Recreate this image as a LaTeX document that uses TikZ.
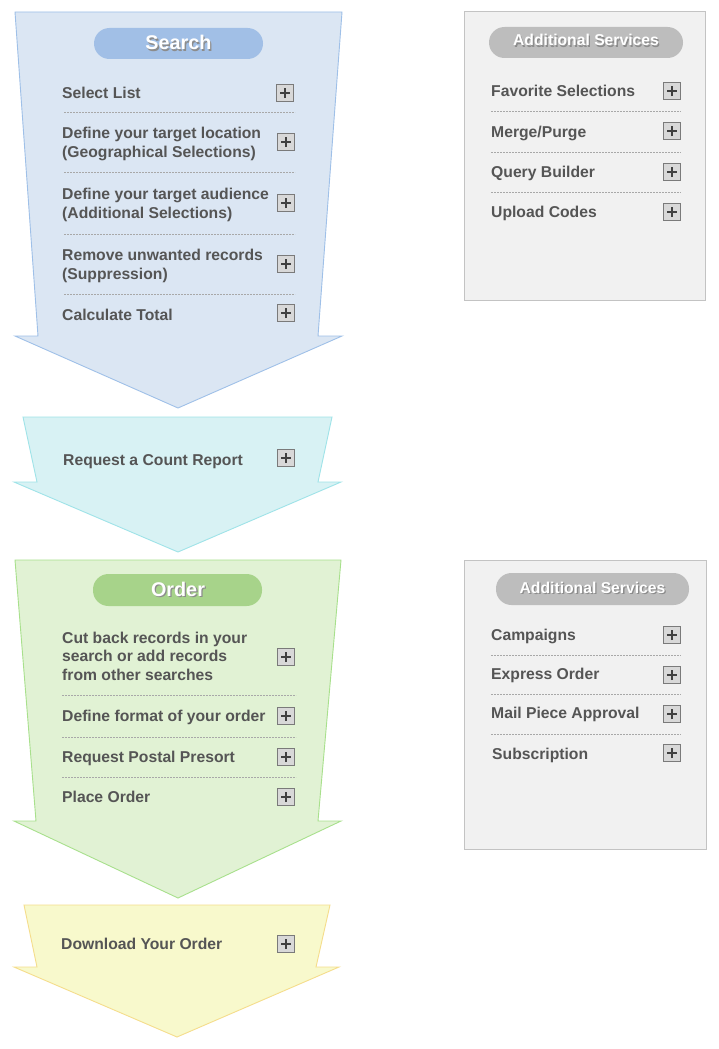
\documentclass[tikz,border=0pt]{standalone}
\usepackage{fontspec}
\setmainfont{Liberation Sans}
\begin{document}
\begin{tikzpicture}[x=1pt,y=-1pt,
  itemtxt/.style={anchor=base west,inner sep=0pt,text=txtgray,align=left,font=\fontsize{15.7}{19}\selectfont\bfseries},
  pluswrap/.style={draw=plusborder,fill=plusfill,minimum size=17pt,inner sep=0pt,line width=0.9pt,
    path picture={\draw[line width=1.6pt,plusmark] ([xshift=-5pt]path picture bounding box.center)--([xshift=5pt]path picture bounding box.center);
                  \draw[line width=1.6pt,plusmark] ([yshift=-5pt]path picture bounding box.center)--([yshift=5pt]path picture bounding box.center);}},
  sep/.style={draw=sepgray,line width=0.7pt,dash pattern=on 2pt off 1pt},
  pill/.style={rounded corners=15.5pt,draw=none},
  headtxt/.style={anchor=base,inner sep=0pt,text=white,font=\fontsize{19.8}{22}\selectfont\bfseries},
  headtxtsm/.style={anchor=base,inner sep=0pt,text=white,font=\fontsize{15.7}{18}\selectfont\bfseries},
  shadowtxt/.style={text=black!45},
  arrowshape/.style={line width=0.9pt,line join=miter},
  sidebox/.style={draw=boxborder,fill=boxfill,line width=0.9pt}
]
\definecolor{txtgray}{HTML}{555555}
\definecolor{plusfill}{HTML}{D8D8D8}
\definecolor{plusborder}{HTML}{7A7A7A}
\definecolor{plusmark}{HTML}{404040}
\definecolor{sepgray}{HTML}{A8A8A8}
\definecolor{sfill}{HTML}{DBE6F3}
\definecolor{sdraw}{HTML}{9FC0E8}
\definecolor{spill}{HTML}{A1BFE6}
\definecolor{cfill}{HTML}{D8F2F4}
\definecolor{cdraw}{HTML}{9FE3E8}
\definecolor{ofill}{HTML}{E1F2D4}
\definecolor{odraw}{HTML}{A8E08C}
\definecolor{opill}{HTML}{A7D38A}
\definecolor{dfill}{HTML}{F8F9CC}
\definecolor{ddraw}{HTML}{F5DD8C}
\definecolor{boxfill}{HTML}{F1F1F1}
\definecolor{boxborder}{HTML}{C3C3C3}
\definecolor{gpill}{HTML}{BDBDBD}

\useasboundingbox[fill=white] (0,0) rectangle (718,1049);

% ---------- Search arrow ----------
\draw[arrowshape,fill=sfill,draw=sdraw] (15,12)--(342,12)--(318,336)--(342,336)--(178,408)--(15,336)--(38,336)--cycle;
\fill[spill,pill] (94,28) rectangle (263,59);
\node[headtxt,shadowtxt] at (179.8,51.2) {Search};
\node[headtxt] (search) at (178.5,50) {Search};

\node[itemtxt] (s1) at (62,98) {Select List};
\node[pluswrap] (p1) at (285,93) {};
\draw[sep] (64,112)--(295,112);
\node[itemtxt] (s2) at (62,157) {Define your target location\\(Geographical Selections)};
\node[pluswrap] (p2) at (286,142) {};
\draw[sep] (64,172)--(295,172);
\node[itemtxt] (s3) at (62,218) {Define your target audience\\(Additional Selections)};
\node[pluswrap] (p3) at (286,203) {};
\draw[sep] (64,234)--(295,234);
\node[itemtxt] (s4) at (62,279) {Remove unwanted records\\(Suppression)};
\node[pluswrap] (p4) at (286,264) {};
\draw[sep] (64,294)--(295,294);
\node[itemtxt] (s5) at (62,320) {Calculate Total};
\node[pluswrap] (p5) at (286,313) {};

% ---------- Count arrow ----------
\draw[arrowshape,fill=cfill,draw=cdraw] (23,417)--(332,417)--(318,482)--(341,482)--(178,552)--(14,482)--(37,482)--cycle;
\node[itemtxt] (c1) at (63,465) {Request a Count Report};
\node[pluswrap] (p6) at (286,458) {};

% ---------- Order arrow ----------
\draw[arrowshape,fill=ofill,draw=odraw] (15,560)--(341,560)--(318,821)--(341,821)--(178,898)--(14,821)--(36,821)--cycle;
\fill[opill,pill] (93,574) rectangle (262,606);
\node[headtxt,shadowtxt] at (179.3,597.2) {Order};
\node[headtxt] (order) at (178,596) {Order};

\node[itemtxt,font=\fontsize{15.7}{18.5}\selectfont\bfseries] (o1) at (62,680) {Cut back records in your\\search or add records\\from other searches};
\node[pluswrap] (p7) at (286,657) {};
\draw[sep] (62,695)--(296,695);
\node[itemtxt] (o2) at (62,721) {Define format of your order};
\node[pluswrap] (p8) at (286,716) {};
\draw[sep] (62,737)--(296,737);
\node[itemtxt] (o3) at (62,762) {Request Postal Presort};
\node[pluswrap] (p9) at (286,757) {};
\draw[sep] (62,777)--(296,777);
\node[itemtxt] (o4) at (62,802) {Place Order};
\node[pluswrap] (p10) at (286,797) {};

% ---------- Download arrow ----------
\draw[arrowshape,fill=dfill,draw=ddraw] (24,905)--(330,905)--(316,967)--(339,967)--(177,1037)--(14,967)--(37,967)--cycle;
\node[itemtxt] (d1) at (61,949) {Download Your Order};
\node[pluswrap] (p11) at (286,944) {};

% ---------- Additional services 1 ----------
\draw[sidebox] (464,11) rectangle (705,300);
\fill[gpill,pill] (489,27) rectangle (683,58);
\node[headtxtsm,shadowtxt] at (587.3,47.2) {Additional Services};
\node[headtxtsm] (as1) at (586,46) {Additional Services};
\node[itemtxt] (a1) at (491,96) {Favorite Selections};
\node[pluswrap] (q1) at (672,91) {};
\draw[sep] (491,111)--(681,111);
\node[itemtxt] (a2) at (491,137) {Merge/Purge};
\node[pluswrap] (q2) at (672,131) {};
\draw[sep] (491,152)--(681,152);
\node[itemtxt] (a3) at (491,177) {Query Builder};
\node[pluswrap] (q3) at (672,172) {};
\draw[sep] (491,192)--(681,192);
\node[itemtxt] (a4) at (491,217) {Upload Codes};
\node[pluswrap] (q4) at (672,212) {};

% ---------- Additional services 2 ----------
\draw[sidebox] (464,560) rectangle (706,849);
\fill[gpill,pill] (496,573) rectangle (689,605);
\node[headtxtsm,shadowtxt] at (593.8,594.2) {Additional Services};
\node[headtxtsm] (as2) at (592.5,593) {Additional Services};
\node[itemtxt] (b1) at (491,640) {Campaigns};
\node[pluswrap] (r1) at (672,635) {};
\draw[sep] (491,655)--(681,655);
\node[itemtxt] (b2) at (491,679) {Express Order};
\node[pluswrap] (r2) at (672,675) {};
\draw[sep] (491,694)--(681,694);
\node[itemtxt] (b3) at (491,718) {Mail Piece Approval};
\node[pluswrap] (r3) at (672,714) {};
\draw[sep] (491,734)--(681,734);
\node[itemtxt] (b4) at (492,759) {Subscription};
\node[pluswrap] (r4) at (672,753) {};
\end{tikzpicture}
\end{document}
